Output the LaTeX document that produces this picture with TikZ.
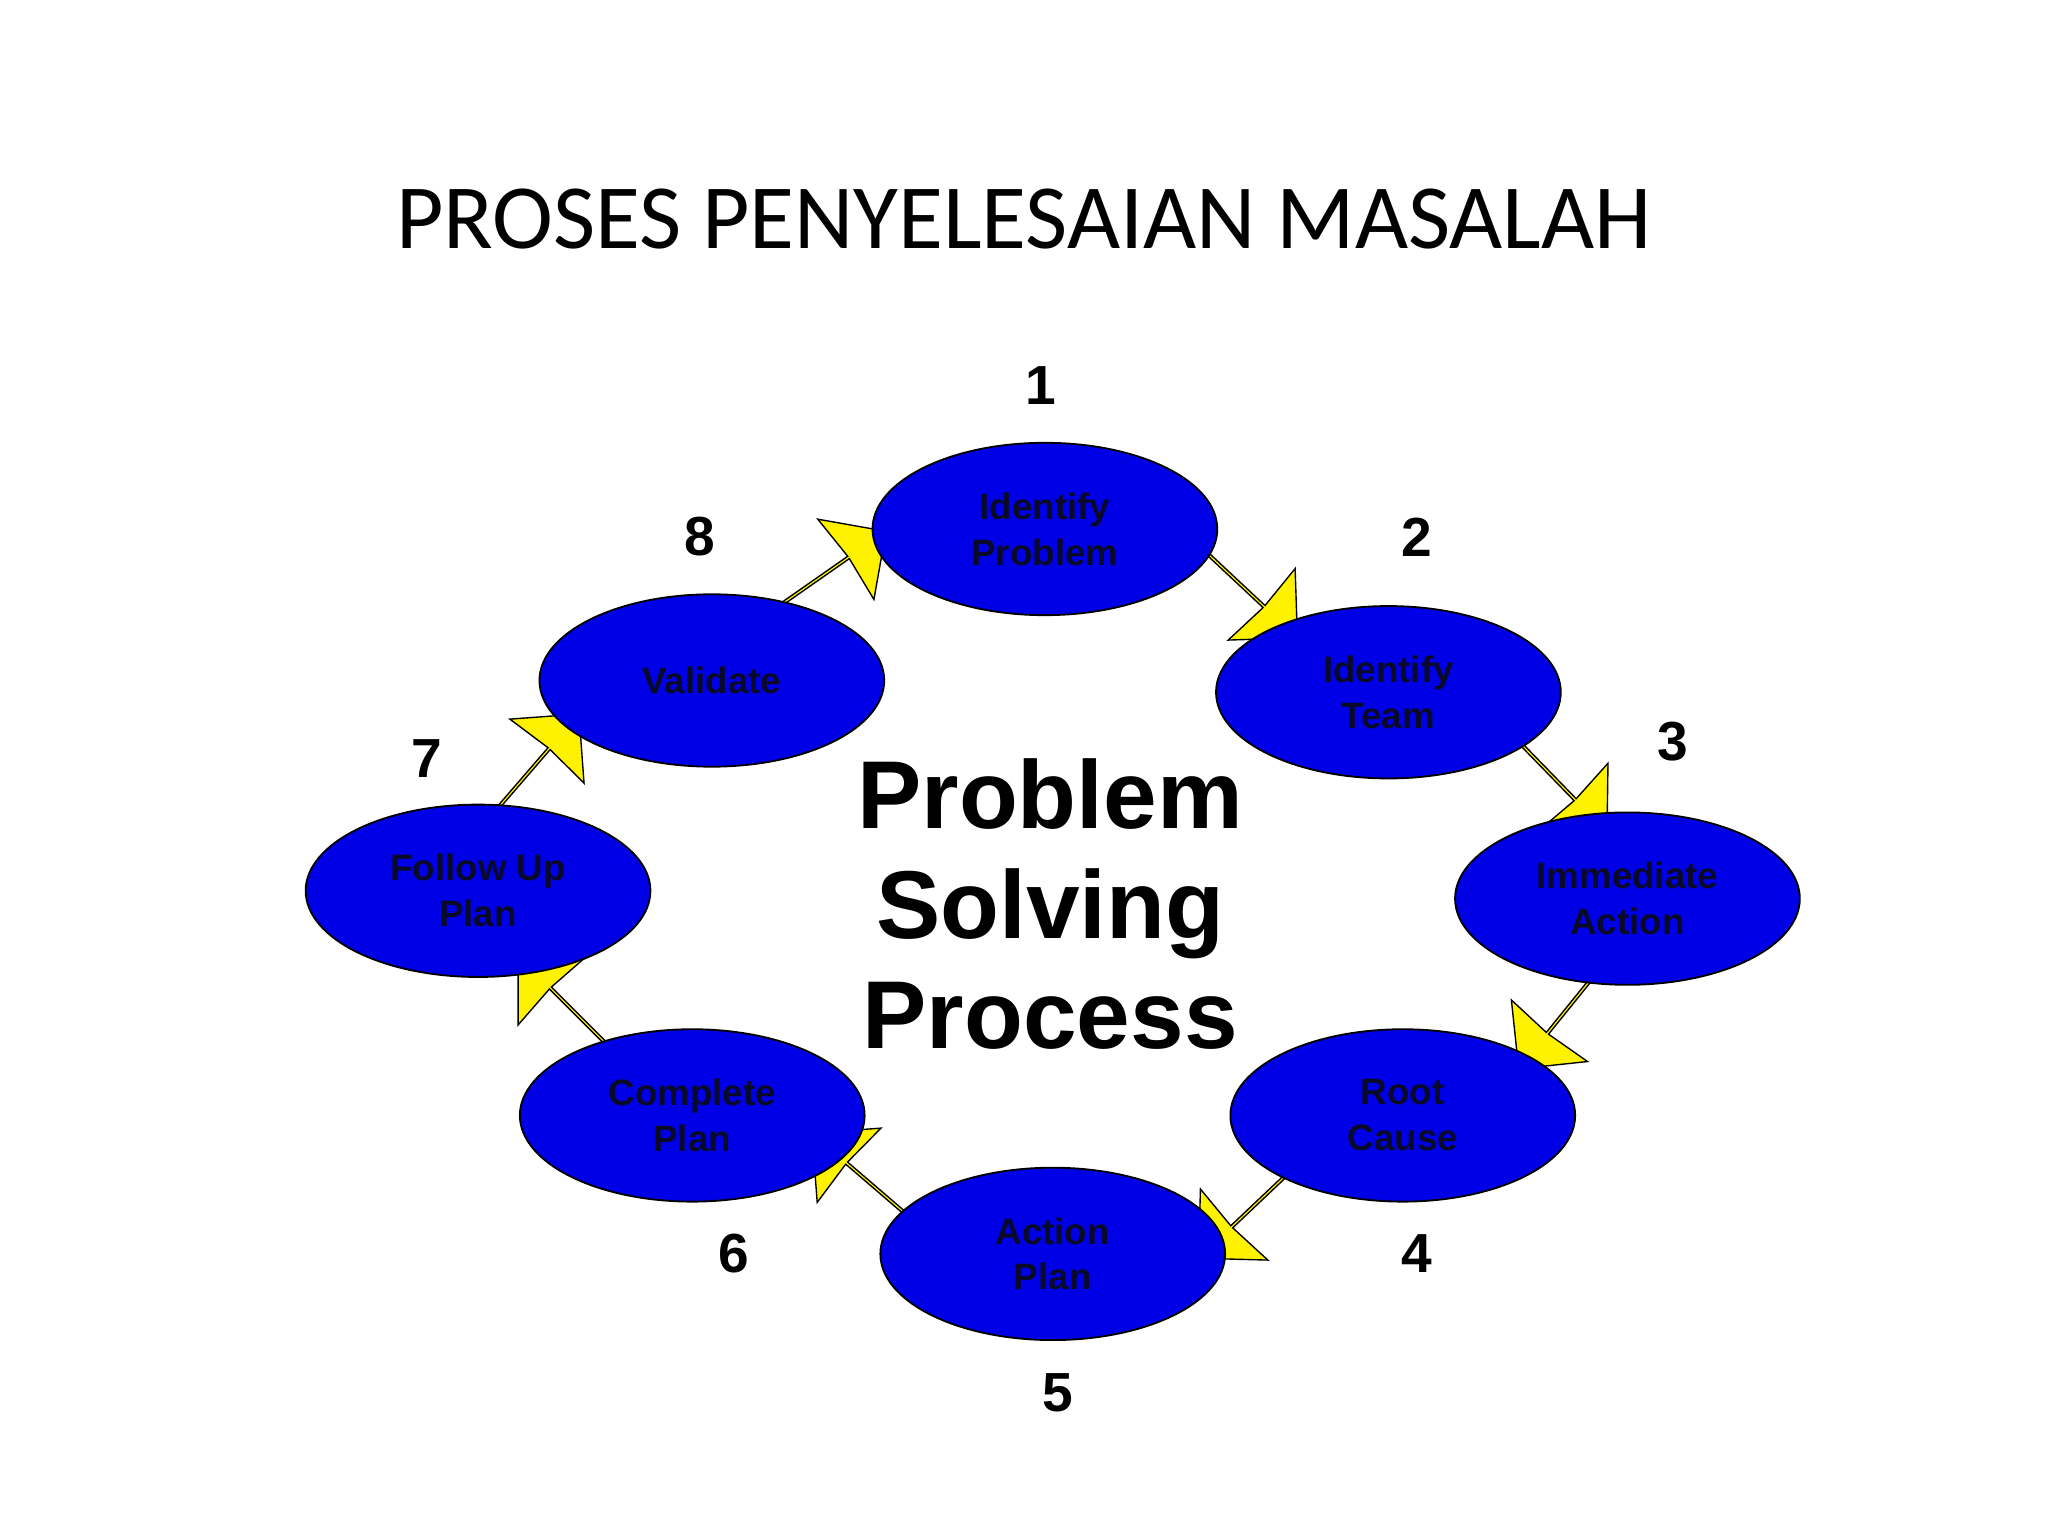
\documentclass[tikz,border=0pt]{standalone}
\usepackage{fontspec}
\setmainfont{Liberation Sans}
\newfontfamily\titlefont{Carlito}
\usetikzlibrary{shapes.arrows,shapes.geometric,calc}
\begin{document}
\begin{tikzpicture}[x=0.02cm,y=-0.02cm,
  stage/.style={ellipse,draw=black,fill={rgb,255:red,0;green,0;blue,230},line width=0.8pt,minimum width=5.28cm,minimum height=2.64cm,align=center,font=\fontsize{16}{20}\selectfont\bfseries,text={rgb,255:red,10;green,10;blue,40},inner sep=0pt},
  num/.style={font=\fontsize{24}{28}\selectfont\bfseries},
  barrow/.style={single arrow,draw=black,fill=yellow,line width=0.6pt,minimum width=1.5cm,single arrow head extend=0.35cm,single arrow head indent=0.05cm,inner sep=0pt,anchor=tail}]
\useasboundingbox (0,0) rectangle (1568,1176);
\node[font=\titlefont\fontsize{40}{48}\selectfont] (title) at (784,168) {PROSES PENYELESAIAN MASALAH};
% arrow coordinates
\foreach \k/\a/\b in {1/915/415,2/1160/565,3/1222/745,4/995/890,5/700/935,6/465/800,7/380/620,8/595/465}
  \coordinate (t\k) at (\a,\b);
\foreach \k/\a/\b in {1/993/488,2/1230/637,3/1163/818,4/918/963,5/622/868,6/397/732,7/443/547,8/678/407}
  \coordinate (h\k) at (\a,\b);
\foreach \k in {1,...,8}
  \path let \p1=($(h\k)-(t\k)$), \n1={atan2(\y1,\x1)}, \n2={veclen(\x1,\y1)} in
    node[barrow,minimum height=\n2,rotate=\n1] (arr\k) at (t\k) {};
\node[stage] (s1) at (800,405) {Identify\\Problem};
\node[stage] (s2) at (1063,530) {Identify\\Team};
\node[stage] (s3) at (1246,688) {Immediate\\Action};
\node[stage] (s4) at (1074,854) {Root\\Cause};
\node[stage] (s5) at (806,960) {Action\\Plan};
\node[stage] (s6) at (530,854) {Complete\\Plan};
\node[stage] (s7) at (366,682) {Follow Up\\Plan};
\node[stage] (s8) at (545,521) {Validate};
\node[num] (n1) at (797,295) {1};
\node[num] (n2) at (1085,411) {2};
\node[num] (n3) at (1281,568) {3};
\node[num] (n4) at (1085,960) {4};
\node[num] (n5) at (810,1066) {5};
\node[num] (n6) at (562,960) {6};
\node[num] (n7) at (327,581) {7};
\node[num] (n8) at (536,411) {8};
\node[font=\fontsize{42}{48}\selectfont\bfseries,align=center] (center) at (804,692) {Problem\\Solving\\Process};
\end{tikzpicture}
\end{document}
